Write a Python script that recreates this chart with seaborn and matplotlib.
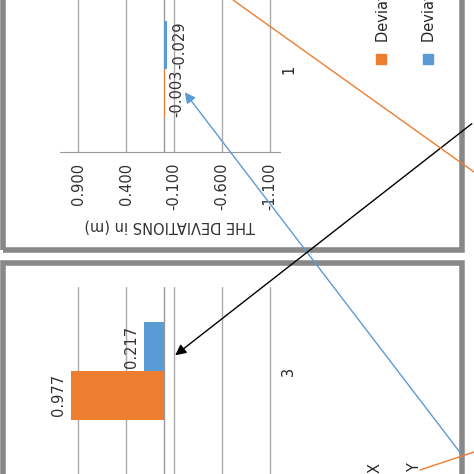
import matplotlib
matplotlib.use("Agg")
import matplotlib.pyplot as plt
import pandas as pd
import seaborn as sns
from matplotlib.patches import Rectangle, FancyArrowPatch
from matplotlib.lines import Line2D

# visible data of the two panels (category, series, value)
top_cats = [1, 1]
top_series = ['Deviation X', 'Deviation Y']
top_values = [-0.003, -0.029]
bot_cats = [3, 3]
bot_series = ['Deviation X', 'Deviation Y']
bot_values = [0.977, 0.217]
ticks = [0.900, 0.400, -0.100, -0.600, -1.100]

colors = {'Deviation X': '#ED7D31', 'Deviation Y': '#5B9BD5'}
W = 474.0
FS = 10.5

sns.set_style("white")
fig = plt.figure(figsize=(4.74, 4.74), dpi=100)


def px(x, y):
    return (x / W, 1 - y / W)


def make_panel(rect, cats, series, values, show_ticks):
    ax = fig.add_axes(rect)
    df = pd.DataFrame({'cat': cats, 'ser': series, 'val': values})
    sns.barplot(data=df, x='val', y='cat', hue='ser', orient='h', native_scale=True,
                hue_order=['Deviation X', 'Deviation Y'], palette=colors, saturation=1,
                width=0.58, linewidth=0, ax=ax, legend=False)
    ax.set_xlim(1.0875, -1.204)
    ax.set_ylim(0.5, 3.5)
    for t in ticks:
        ax.axvline(t, color='#aaaaaa', lw=1, zorder=0)
    ax.axvline(0, color='#999999', lw=1, zorder=0)
    for s in ax.spines.values():
        s.set_visible(False)
    ax.set_yticks([])
    ax.set_ylabel('')
    ax.patch.set_alpha(0)
    if show_ticks:
        ax.spines['bottom'].set_visible(True)
        ax.spines['bottom'].set_color('#999999')
        ax.set_xticks(ticks)
        ax.set_xticklabels(['%.3f' % t for t in ticks], rotation=90, fontsize=FS,
                           color='#333333')
        ax.tick_params(axis='x', length=4, color='#999999')
        ax.set_xlabel('THE DEVIATIONS in (m)', rotation=180, fontsize=FS,
                      color='#333333', labelpad=6)
    else:
        ax.set_xticks([])
        ax.set_xlabel('')
    for bar_c in ax.containers:
        for rect_, v in zip(bar_c, bar_c.datavalues):
            yc = rect_.get_y() + rect_.get_height() / 2
            off = -9 if v > 0 else 9
            ax.annotate('%.3f' % v, (v, yc), xytext=(off, 0), textcoords='offset points',
                        rotation=90, ha='center', va='center', fontsize=FS,
                        color='#333333')
    return ax


# top panel: category 1 centered at y=69 px, axis at y=152
ax1 = make_panel([60 / W, 1 - 152 / W, 220 / W, 498 / W], top_cats, top_series, top_values, True)
ax1.text(1.04, 1 / 6, '1', transform=ax1.transAxes, rotation=90, fontsize=FS,
         ha='center', va='center')
# bottom panel: category 3 spans 287-455 px
ax2 = make_panel([60 / W, 1 - 791 / W, 220 / W, 504 / W], bot_cats, bot_series, bot_values, False)
ax2.text(1.04, 5 / 6, '3', transform=ax2.transAxes, rotation=90, fontsize=FS,
         ha='center', va='center')

# panel frames
fig.add_artist(Rectangle(px(3, 250), 459 / W, 300 / W, transform=fig.transFigure,
                         fill=False, ec='#888888', lw=4))
fig.add_artist(Rectangle(px(3, 560), 459 / W, 297 / W, transform=fig.transFigure,
                         fill=False, ec='#888888', lw=4))

# legend (cut by the top edge, as in the reference)
for yq, name in [(381, 'Deviation X'), (428, 'Deviation Y')]:
    fig.add_artist(Rectangle(px(yq - 5, 64), 10 / W, 10 / W, transform=fig.transFigure,
                             color=colors[name]))
    fig.text(*px(yq + 2, 42), name, rotation=90, ha='center', va='bottom', fontsize=FS)

# annotation lines
fig.add_artist(Line2D([233 / W, 1.0], [1.0, 1 - 172 / W], transform=fig.transFigure,
                      color='#ED7D31', lw=1))
fig.add_artist(Line2D([420 / W, 1.0], [1 - 470 / W, 1 - 452 / W], transform=fig.transFigure,
                      color='#ED7D31', lw=1))
fig.add_artist(FancyArrowPatch(px(462, 455), px(183, 90), transform=fig.transFigure,
                               arrowstyle='-|>', mutation_scale=16, color='#5B9BD5', lw=1))
fig.add_artist(FancyArrowPatch(px(474, 122), px(173, 357), transform=fig.transFigure,
                               arrowstyle='-|>', mutation_scale=16, color='black', lw=1))
fig.text(*px(375, 468), 'X', rotation=90, ha='center', va='center', fontsize=FS)
fig.text(*px(415, 468), 'Y', rotation=90, ha='center', va='center', fontsize=FS)

plt.savefig('out.png', dpi=100)
